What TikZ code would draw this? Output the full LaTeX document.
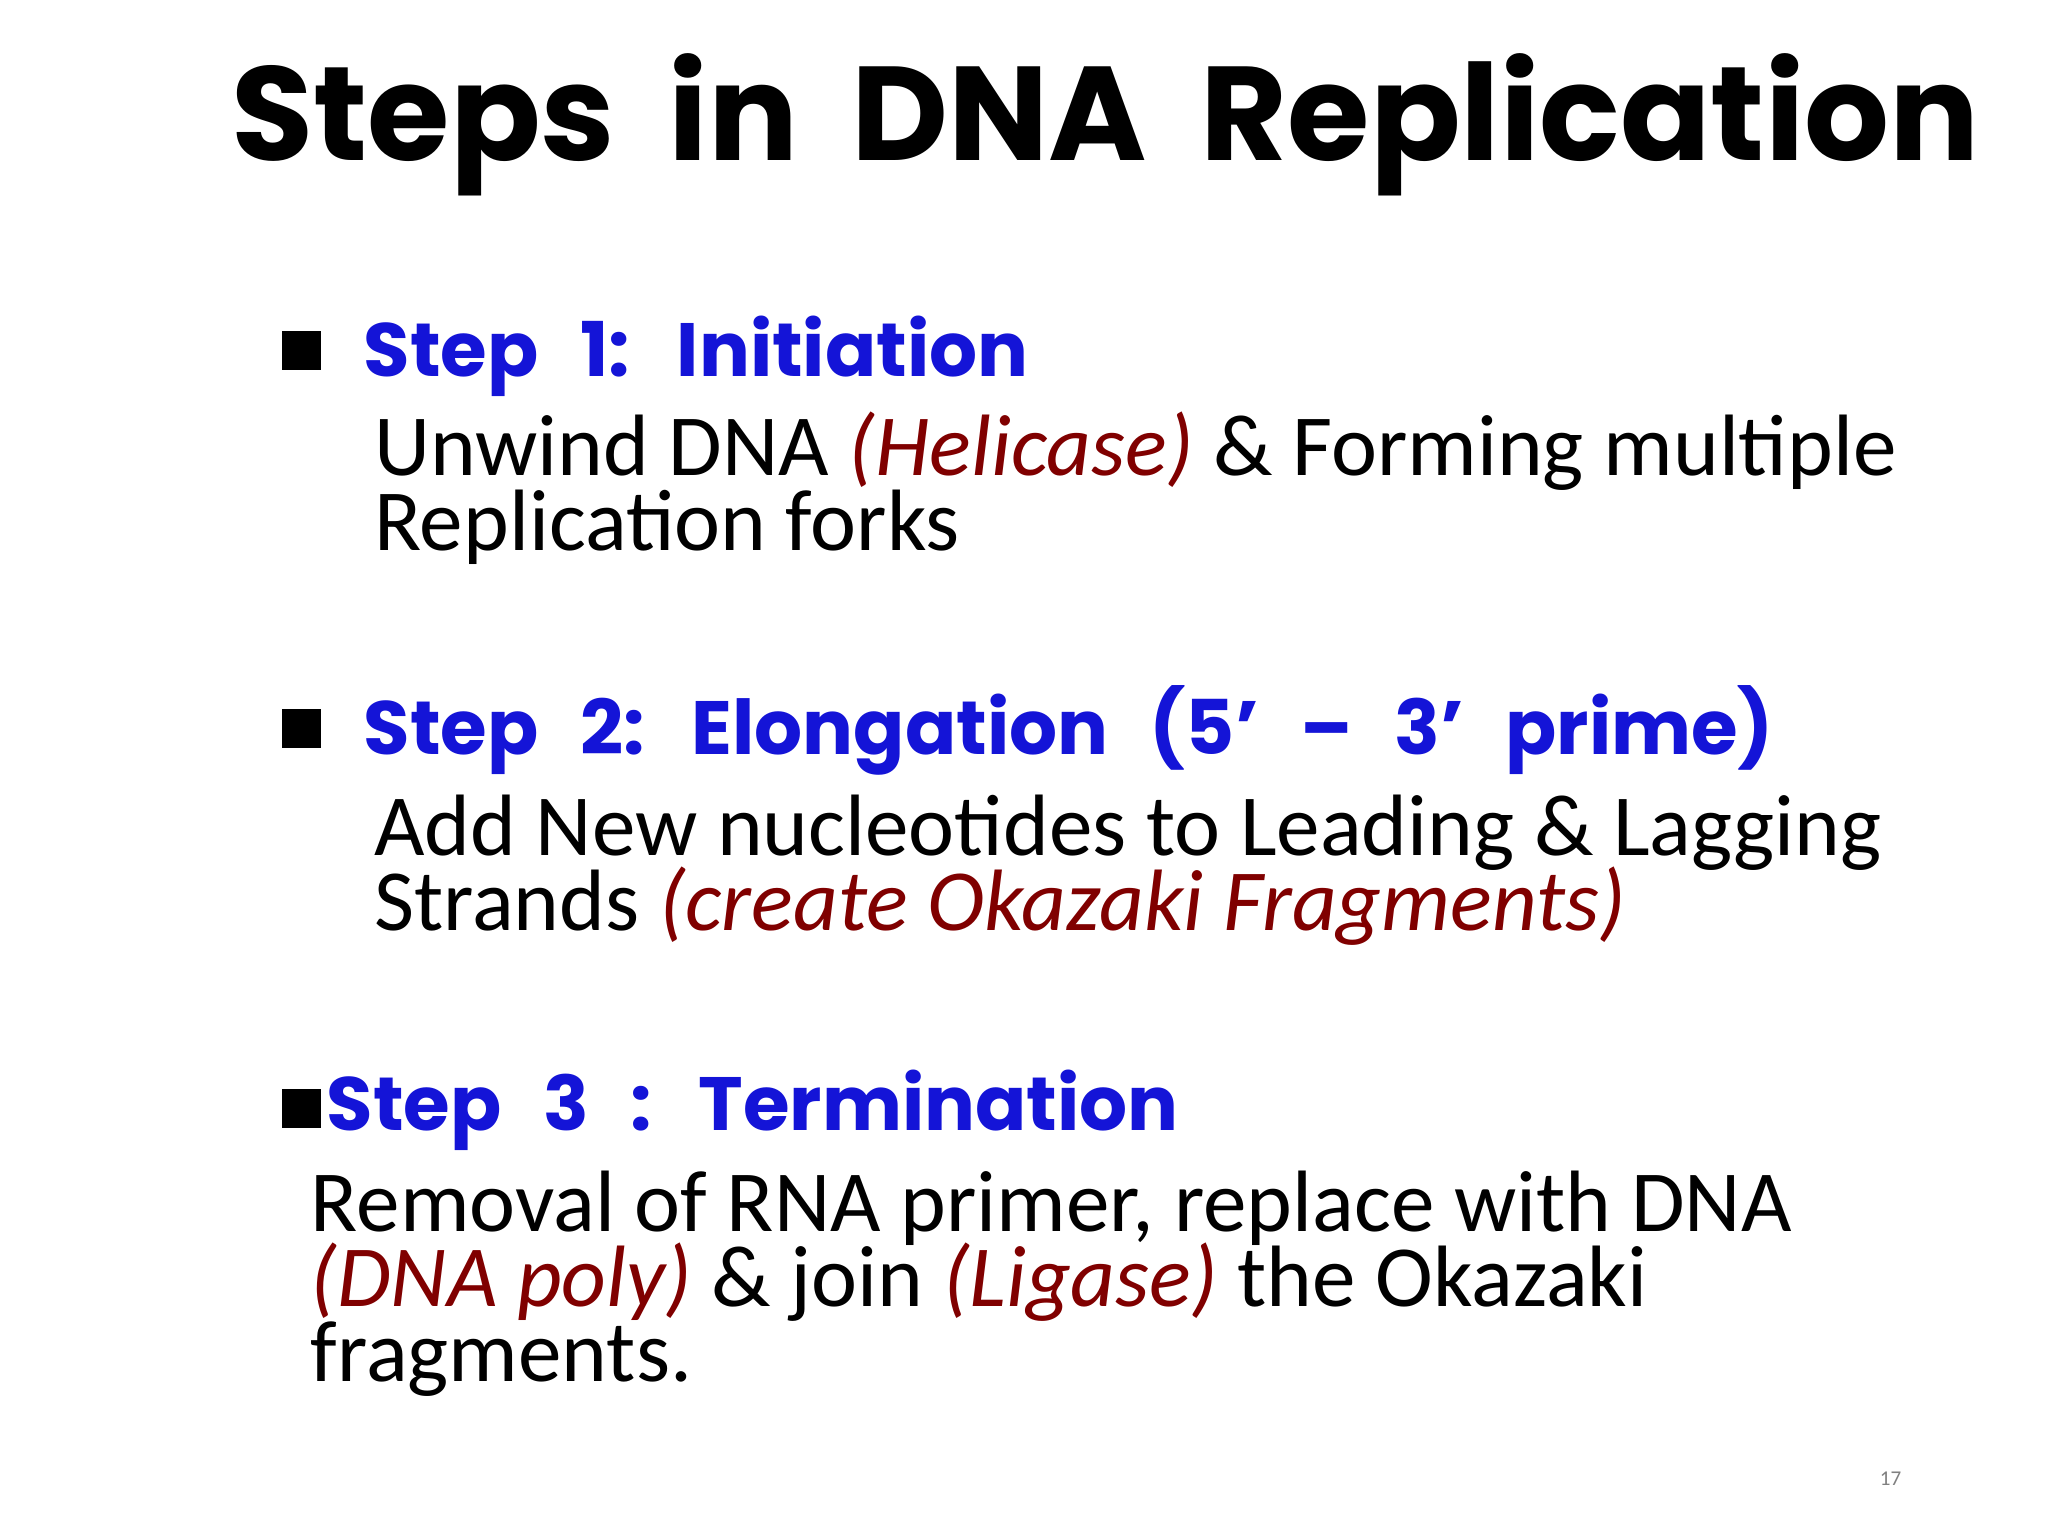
\documentclass[tikz,border=0pt]{standalone}
\usepackage{fontspec}
\setmainfont{Carlito}
\newfontfamily\comic{Poppins}
\definecolor{stepblue}{RGB}{20,20,215}
\definecolor{darkred}{RGB}{128,0,0}
\newcommand{\wsA}{\spaceskip=0.4em\relax}
\newcommand{\wsB}{\spaceskip=0.55em\relax}
\begin{document}
\begin{tikzpicture}[x=0.013196cm,y=-0.013196cm,
  title/.style={anchor=base west,inner sep=0pt,font=\comic\bfseries\fontsize{38}{40}\selectfont},
  stephead/.style={anchor=base west,inner sep=0pt,text=stepblue,font=\comic\bfseries\fontsize{21.5}{24}\selectfont},
  body/.style={anchor=base west,inner sep=0pt,font=\fontsize{24.8}{22}\selectfont},
  bul/.style={fill=black,minimum size=0.39cm,inner sep=0pt,anchor=north west}]
\useasboundingbox (0,0) rectangle (1552,1164);
\node[title] (t) at (175,122) {\wsA Steps in DNA Replication};
\node[bul] (b1) at (213,250) {};
\node[stephead] (s1) at (275,285) {\wsB Step 1: Initiation};
\node[body] (l11) at (283,360) {Unwind DNA \textcolor{darkred}{\itshape (Helicase)} \& Forming multiple};
\node[body] (l12) at (283,417) {Replication forks};
\node[bul] (b2) at (213,537) {};
\node[stephead] (s2) at (275,572) {\wsB Step 2: Elongation (5’ – 3’ prime)};
\node[body] (l21) at (283,648) {Add New nucleotides to Leading \& Lagging};
\node[body] (l22) at (283,705) {Strands \textcolor{darkred}{\itshape (create Okazaki Fragments)}};
\node[bul] (b3) at (213,825) {};
\node[stephead] (s3) at (247,857) {\wsB Step 3 : Termination};
\node[body] (l31) at (235,933) {Removal of RNA primer, replace with DNA};
\node[body] (l32) at (235,990) {\textcolor{darkred}{\itshape (DNA poly)} \& join \textcolor{darkred}{\itshape (Ligase)} the Okazaki};
\node[body] (l33) at (235,1047) {fragments.};
\node[anchor=base west,inner sep=0pt,text=gray,font=\fontsize{6}{7}\selectfont] (pg) at (1424,1126) {17};
\end{tikzpicture}
\end{document}
